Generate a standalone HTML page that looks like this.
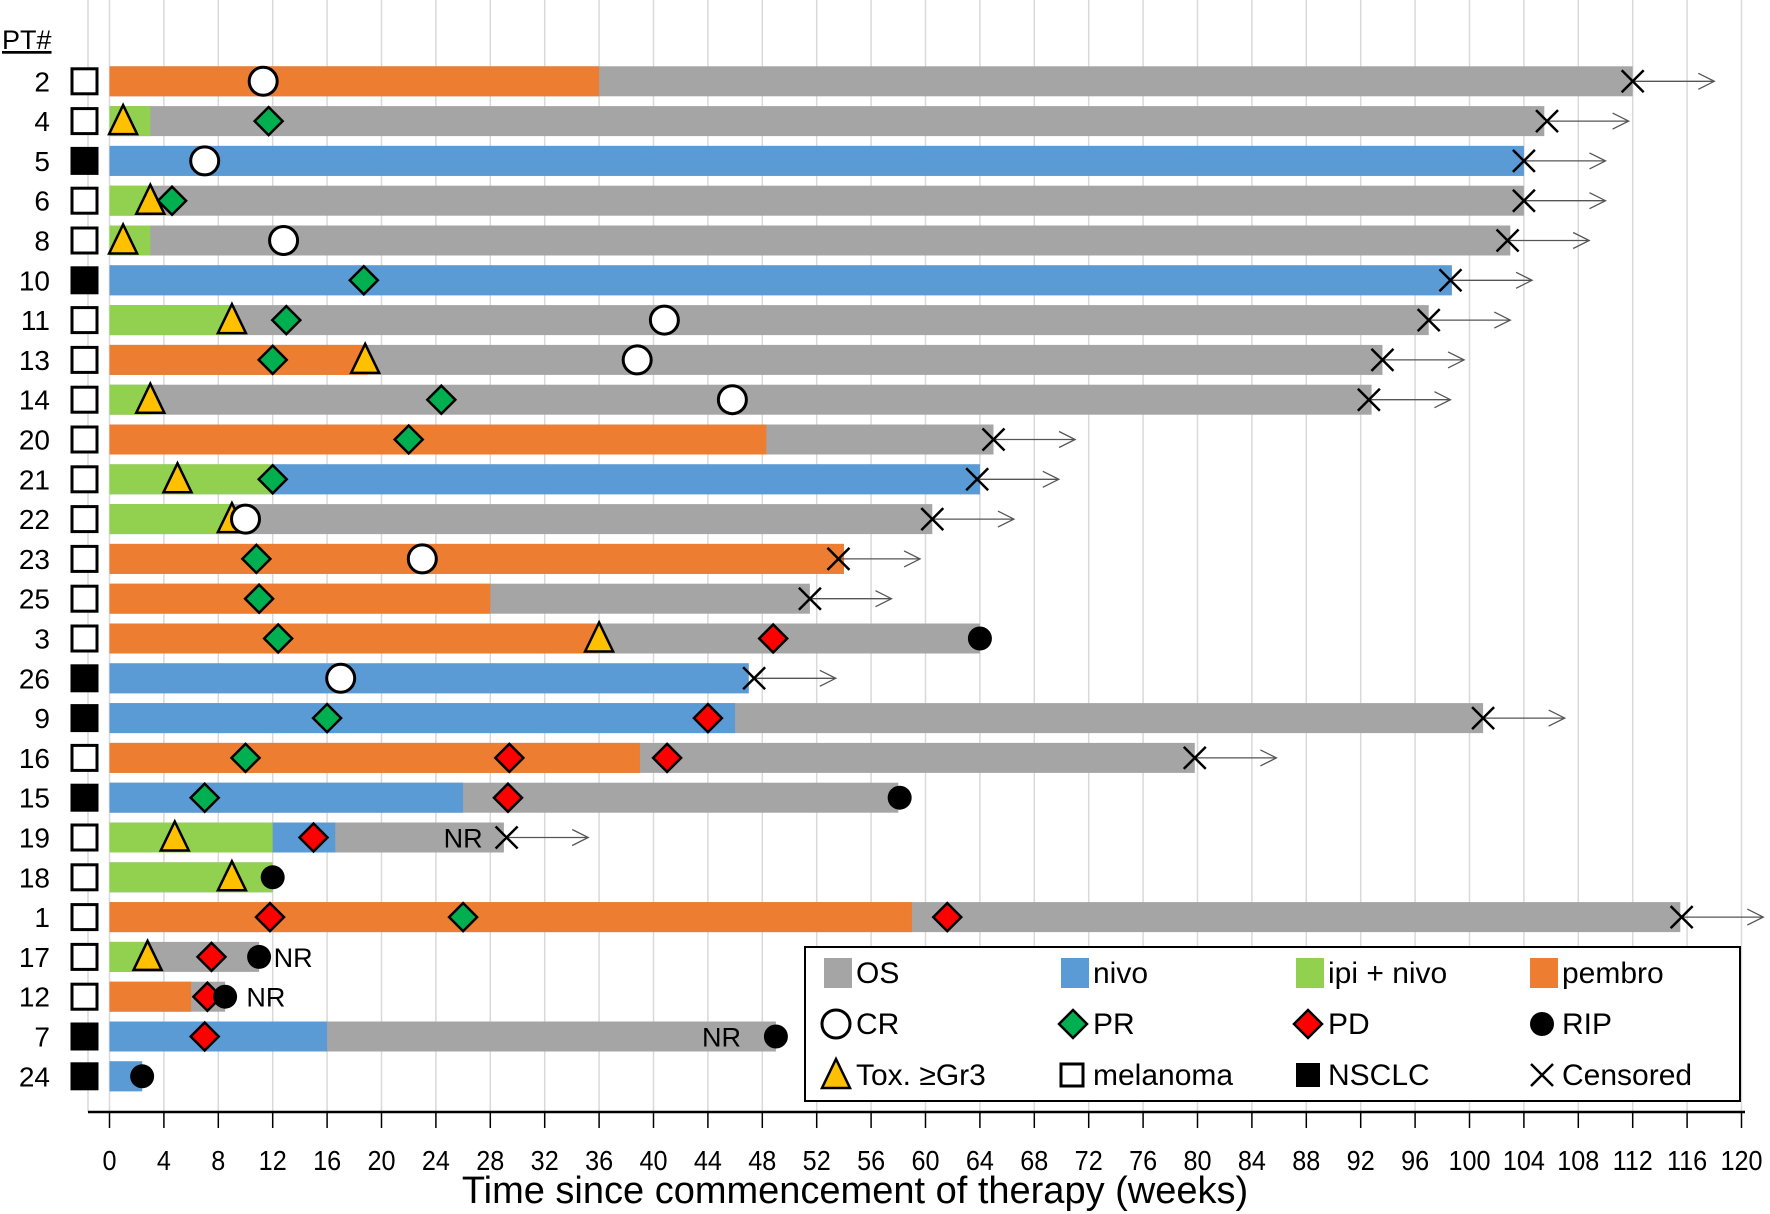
<!DOCTYPE html>
<html><head><meta charset="utf-8"><style>
html,body{margin:0;padding:0;background:#fff}
svg{display:block}
text{font-family:"Liberation Sans Narrow","Liberation Sans",sans-serif;fill:#000}
</style></head><body>
<svg id="chart" width="1770" height="1214" viewBox="0 0 1770 1214" xmlns="http://www.w3.org/2000/svg"></svg>
<script>
const patients=["2","4","5","6","8","10","11","13","14","20","21","22","23","25","3","26","9","16","15","19","18","1","17","12","7","24"];
const cancerType=["m","m","n","m","m","n","m","m","m","m","m","m","m","m","m","n","n","m","n","m","m","m","m","m","n","n"];
// therapy segments: [type, start, end]
const therapy=[
[["pembro",0,36]],[["ipi",0,3]],[["nivo",0,104]],[["ipi",0,3]],[["ipi",0,3]],[["nivo",0,98.7]],
[["ipi",0,9]],[["pembro",0,19]],[["ipi",0,3]],[["pembro",0,48.3]],[["ipi",0,12],["nivo",12,64]],
[["ipi",0,9]],[["pembro",0,54]],[["pembro",0,28]],[["pembro",0,36]],[["nivo",0,47]],[["nivo",0,46]],
[["pembro",0,39]],[["nivo",0,26]],[["ipi",0,12],["nivo",12,16.6]],[["ipi",0,12]],[["pembro",0,59]],
[["ipi",0,3]],[["pembro",0,6]],[["nivo",0,16]],[["nivo",0,2.4]]];
const osEnd=[112,105.5,104,104,103,98.7,97,93.6,92.8,65,64,60.5,54,51.5,64,47,101,79.8,58,29,12,115.5,11,8.5,49,2.4];
const crEvents=[[11.3],[],[7],[],[12.8],[],[40.8],[38.8],[45.8],[],[],[10],[23],[],[],[17],[],[],[],[],[],[],[],[],[],[]];
const prEvents=[[],[11.7],[],[4.6],[],[18.7],[13],[12],[24.4],[22],[12],[],[10.8],[11],[12.4],[],[16],[10],[7],[],[],[26],[],[],[],[]];
const pdEvents=[[],[],[],[],[],[],[],[],[],[],[],[],[],[],[48.8],[],[44],[29.4,41],[29.3],[15],[],[11.8,61.6],[7.5],[7.2],[7],[]];
const toxEvents=[[],[1],[],[3],[1],[],[9],[18.8],[3],[],[5],[9],[],[],[36],[],[],[],[],[4.8],[9],[],[2.8],[],[],[]];
const censored=[112,105.7,104,104,102.8,98.6,97,93.6,92.6,65,63.8,60.5,53.6,51.5,null,47.4,101,79.8,null,29.2,null,115.6,null,null,null,null];
const rip=[null,null,null,null,null,null,null,null,null,null,null,null,null,null,64,null,null,null,58.1,null,12,null,11,8.5,49,2.4];
const nrLabel=[null,null,null,null,null,null,null,null,null,null,null,null,null,null,null,null,null,null,null,26,null,null,13.5,11.5,45,null];
const xTicks=[0,4,8,12,16,20,24,28,32,36,40,44,48,52,56,60,64,68,72,76,80,84,88,92,96,100,104,108,112,116,120];

const NS="http://www.w3.org/2000/svg";
const svg=document.getElementById('chart');
const X0=109.5,KX=13.6,Y0=81.3,KY=39.8,BH=30;
const xs=w=>X0+w*KX, ys=i=>Y0+i*KY;
const col={os:"#a5a5a5",nivo:"#5b9bd5",ipi:"#92d050",pembro:"#ed7d31"};
function el(tag,attrs,parent){const e=document.createElementNS(NS,tag);for(const k in attrs)e.setAttribute(k,attrs[k]);(parent||svg).appendChild(e);return e;}

// grid
const grid=el('g',{});


el('line',{x1:88,x2:88,y1:0,y2:1112,stroke:"#d9d9d9","stroke-width":1.5},grid);
xTicks.forEach(t=>{el('line',{x1:xs(t),x2:xs(t),y1:0,y2:1112,stroke:"#d9d9d9","stroke-width":1.5},grid);});

// axis
const ax=el('g',{});


el('line',{x1:88,x2:1745,y1:1112,y2:1112,stroke:"#000","stroke-width":2.5},ax);
xTicks.forEach(t=>{
 el('line',{x1:xs(t),x2:xs(t),y1:1112,y2:1128,stroke:"#000","stroke-width":1.5},ax);
 const tx=el('text',{x:0,y:0,"text-anchor":"middle","font-size":28,transform:`translate(${xs(t)},1170) scale(0.9,1)`},ax);
 
 
 tx.textContent=t;
});
const title=el('text',{x:855,y:1203,"text-anchor":"middle","font-size":38});


title.textContent="Time since commencement of therapy (weeks)";

const pt=el('text',{x:2,y:49,"font-size":27,"text-decoration":"underline"});


pt.textContent="PT#";

function circle(x,y,fill,g){return el('circle',{cx:x,cy:y,r:14,fill:fill,stroke:"#000","stroke-width":3},g);}
function diamond(x,y,fill,g){return el('path',{d:`M${x} ${y-14}L${x+14} ${y}L${x} ${y+14}L${x-14} ${y}Z`,fill:fill,stroke:"#000","stroke-width":2.5},g);}
function tri(x,y,g){return el('path',{d:`M${x} ${y-16}L${x+14} ${y+13}L${x-14} ${y+13}Z`,fill:"#ffc000",stroke:"#000","stroke-width":2.5},g);}
function cross(x,y,g){el('path',{d:`M${x-11} ${y-11}L${x+11} ${y+11}M${x+11} ${y-11}L${x-11} ${y+11}`,stroke:"#000","stroke-width":2.5},g);}

patients.forEach((p,i)=>{
 const y=ys(i);
 const g=el('g',{});
 
 
 const lb=el('text',{x:50,y:y+10,"text-anchor":"end","font-size":28},g);
 lb.textContent=p;
 const sq=el('rect',{x:72,y:y-12.5,width:25,height:25,fill:cancerType[i]==="n"?"#000":"#fff",stroke:"#000","stroke-width":3},g);
 
 
 const os=el('rect',{x:xs(0),y:y-BH/2,width:xs(osEnd[i])-xs(0),height:BH,fill:col.os},g);
 
 
 therapy[i].forEach(s=>{
  const r=el('rect',{x:xs(s[1]),y:y-BH/2,width:xs(s[2])-xs(s[1]),height:BH,fill:col[s[0]]},g);
  
  
 });
 if(censored[i]!=null){
  const cx=xs(censored[i]);
  el('line',{x1:cx,x2:cx+KX*6,y1:y,y2:y,stroke:"#555","stroke-width":1.3},g);
  el('path',{d:`M${cx+KX*6-16} ${y-8}L${cx+KX*6} ${y}L${cx+KX*6-16} ${y+8}`,fill:"none",stroke:"#555","stroke-width":1.3},g);
 }
 if(nrLabel[i]!=null){const t=el('text',{x:xs(nrLabel[i]),y:y+10,"text-anchor":"middle","font-size":27},g);t.textContent="NR";}
 toxEvents[i].forEach(w=>tri(xs(w),y,g));
 crEvents[i].forEach(w=>circle(xs(w),y,"#fff",g));
 prEvents[i].forEach(w=>diamond(xs(w),y,"#00b050",g));
 pdEvents[i].forEach(w=>diamond(xs(w),y,"#ff0000",g));
 if(rip[i]!=null)el('circle',{cx:xs(rip[i]),cy:y,r:12,fill:"#000"},g);
 if(censored[i]!=null)cross(xs(censored[i]),y,g);
});

// legend
const lg=el('g',{});


el('rect',{x:805,y:947,width:935,height:154,fill:"#fff",stroke:"#000","stroke-width":2},lg);
const LX=[824,1061,1296,1530],LY=[973,1024,1075];
function ltext(c,r,s){const t=el('text',{x:LX[c]+32,y:LY[r]+10,"font-size":30},lg);t.textContent=s;}
[[col.os,"OS"],[col.nivo,"nivo"],[col.ipi,"ipi + nivo"],[col.pembro,"pembro"]].forEach((d,c)=>{el('rect',{x:LX[c],y:LY[0]-15,width:28,height:30,fill:d[0]},lg);ltext(c,0,d[1]);});
circle(LX[0]+12,LY[1],"#fff",lg);ltext(0,1,"CR");
diamond(LX[1]+12,LY[1],"#00b050",lg);ltext(1,1,"PR");
diamond(LX[2]+12,LY[1],"#ff0000",lg);ltext(2,1,"PD");
el('circle',{cx:LX[3]+12,cy:LY[1],r:12,fill:"#000"},lg);ltext(3,1,"RIP");
tri(LX[0]+12,LY[2],lg);ltext(0,2,"Tox. ≥Gr3");
el('rect',{x:LX[1],y:LY[2]-11,width:22,height:22,fill:"#fff",stroke:"#000","stroke-width":3},lg);ltext(1,2,"melanoma");
el('rect',{x:LX[2],y:LY[2]-12,width:24,height:24,fill:"#000"},lg);ltext(2,2,"NSCLC");
cross(LX[3]+12,LY[2],lg);ltext(3,2,"Censored");
</script>
</body></html>
